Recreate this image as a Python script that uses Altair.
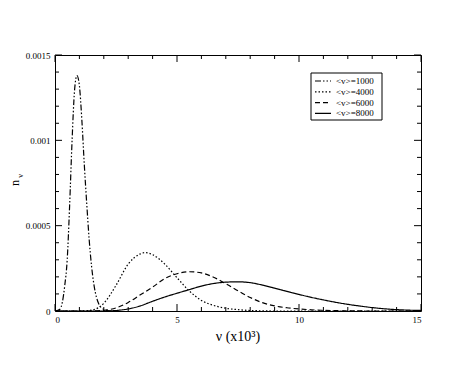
import altair as alt
import pandas as pd

# ---- data (x in units of 10^3) ----
labels = ["<v>=1000", "<v>=4000", "<v>=6000", "<v>=8000"]

c1_x = [0.0, 0.2, 0.3, 0.4, 0.5, 0.6, 0.7, 0.8, 0.9, 1.0, 1.1, 1.2, 1.3, 1.4, 1.5, 1.6, 1.7, 1.8, 2.0, 2.3, 2.6]
c1_y = [0, 0.00001, 0.00005, 0.00015, 0.00030, 0.00062, 0.00100, 0.00129, 0.00138, 0.00132,
        0.00112, 0.00086, 0.00063, 0.00042, 0.00026, 0.00015, 0.00008, 0.00004, 0.00001, 0, 0]

c2_x = [0, 1.0, 1.5, 2.0, 2.5, 3.0, 3.5, 3.7, 4.0, 4.5, 5.0, 5.5, 6.0, 6.5, 7.0, 7.5, 8.0, 8.5, 9.0, 15]
c2_y = [0, 0, 0.000005, 0.000045, 0.00015, 0.000275, 0.000335, 0.000342, 0.00033, 0.000275,
        0.000195, 0.000118, 0.000062, 0.000033, 0.000016, 0.000008, 0.000003, 0.000001, 0, 0]

c3_x = [0, 1.5, 2.0, 2.5, 3.0, 3.5, 4.0, 4.5, 5.0, 5.5, 6.0, 6.5, 7.0, 7.5, 8.0, 8.5, 9.0,
        9.5, 10.0, 10.5, 11.0, 12.0, 13.0, 15]
c3_y = [0, 0, 0.000004, 0.000018, 0.00005, 0.000095, 0.00014, 0.00019, 0.000218, 0.00023,
        0.000223, 0.000198, 0.00016, 0.000118, 0.000079, 0.000049, 0.00003, 0.000019,
        0.000012, 0.000007, 0.000004, 0.000001, 0, 0]

c4_x = [0, 2.0, 2.5, 3.0, 3.5, 4.0, 4.5, 5.0, 5.5, 6.0, 6.5, 7.0, 7.5, 8.0, 8.5, 9.0, 9.5,
        10.0, 10.5, 11.0, 11.5, 12.0, 12.5, 13.0, 13.5, 14.0, 14.5, 15.0]
c4_y = [0, 0, 0.000003, 0.000012, 0.00003, 0.000057, 0.000082, 0.000104, 0.000125, 0.000146,
        0.000161, 0.000169, 0.000171, 0.000166, 0.000152, 0.000134, 0.000115, 0.000097,
        0.00008, 0.000065, 0.000051, 0.000039, 0.000029, 0.00002, 0.000013, 0.000008,
        0.000005, 0.000003]

x_major = [0, 5, 10, 15]
x_minor = [1, 2, 3, 4, 6, 7, 8, 9, 11, 12, 13, 14]
y_major = [0, 0.0005, 0.001, 0.0015]
y_minor = [0.0001, 0.0002, 0.0003, 0.0004, 0.0006, 0.0007, 0.0008, 0.0009,
           0.0011, 0.0012, 0.0013, 0.0014]

# ---- build table ----
rows = []
for lab, xs, ys in zip(labels, [c1_x, c2_x, c3_x, c4_x], [c1_y, c2_y, c3_y, c4_y]):
    for a, b in zip(xs, ys):
        rows.append({"x": a, "y": b, "series": lab})
df = pd.DataFrame(rows)

W, H = 366, 256
FONT = "Liberation Serif"
dashes = [[6, 2, 1.5, 2, 1.5, 2], [1.5, 2], [5, 3], [1, 0]]

xscale = alt.Scale(domain=[0, 15], nice=False, zero=False)
yscale = alt.Scale(domain=[0, 0.0015], nice=False, zero=False)

lines = alt.Chart(df).mark_line(color="black", strokeWidth=1.2, interpolate="monotone", clip=True).encode(
    x=alt.X("x:Q", scale=xscale,
            axis=alt.Axis(values=x_major, ticks=False, domain=False, grid=False, title=None,
                          labelFont=FONT, labelFontSize=9, labelColor="black", labelPadding=4)),
    y=alt.Y("y:Q", scale=yscale,
            axis=alt.Axis(values=y_major, ticks=False, domain=False, grid=False, title=None,
                          format="~g", labelFont=FONT, labelFontSize=9, labelColor="black",
                          labelPadding=5)),
    strokeDash=alt.StrokeDash("series:N", scale=alt.Scale(domain=labels, range=dashes), legend=None),
    detail="series:N",
)

layers = [lines]

# inward ticks on all four sides
def xticks(vals, length):
    d = pd.DataFrame({"v": vals})
    bot = alt.Chart(d).mark_rule(color="black", strokeWidth=1).encode(
        x=alt.X("v:Q", scale=xscale), y=alt.value(H), y2=alt.value(H - length))
    top = alt.Chart(d).mark_rule(color="black", strokeWidth=1).encode(
        x=alt.X("v:Q", scale=xscale), y=alt.value(0), y2=alt.value(length))
    return [bot, top]

def yticks(vals, length):
    d = pd.DataFrame({"v": vals})
    left = alt.Chart(d).mark_rule(color="black", strokeWidth=1).encode(
        y=alt.Y("v:Q", scale=yscale), x=alt.value(0), x2=alt.value(length))
    right = alt.Chart(d).mark_rule(color="black", strokeWidth=1).encode(
        y=alt.Y("v:Q", scale=yscale), x=alt.value(W), x2=alt.value(W - length))
    return [left, right]

layers += xticks(x_major, 7) + xticks(x_minor, 4) + yticks(y_major, 7) + yticks(y_minor, 4)

# legend box
one = pd.DataFrame({"a": [0]})
layers.append(alt.Chart(one).mark_rect(fill="white", stroke="black", strokeWidth=1).encode(
    x=alt.value(256), x2=alt.value(327), y=alt.value(18), y2=alt.value(65)))
for i, lab in enumerate(labels):
    yy = 26 + i * 10.8
    d = pd.DataFrame({"label": [lab]})
    layers.append(alt.Chart(d).mark_rule(color="black", strokeWidth=1.2, strokeDash=dashes[i]).encode(
        x=alt.value(260), x2=alt.value(276), y=alt.value(yy)))
    layers.append(alt.Chart(d).mark_text(align="left", baseline="middle", font=FONT, fontSize=9,
                                         color="black").encode(
        x=alt.value(281), y=alt.value(yy), text="label:N"))

# axis titles as text
layers.append(alt.Chart(pd.DataFrame({"t": ["ν  (x10³)"]})).mark_text(
    font=FONT, fontSize=14, color="black", align="center", baseline="alphabetic").encode(
    x=alt.value(W / 2), y=alt.value(H + 30), text="t:N"))
layers.append(alt.Chart(pd.DataFrame({"t": ["n"]})).mark_text(
    font=FONT, fontSize=12, color="black", align="center", baseline="alphabetic", angle=270).encode(
    x=alt.value(-36), y=alt.value(128), text="t:N"))
layers.append(alt.Chart(pd.DataFrame({"t": ["ν"]})).mark_text(
    font=FONT, fontSize=8, color="black", align="center", baseline="alphabetic", angle=270).encode(
    x=alt.value(-32), y=alt.value(121), text="t:N"))

chart = alt.layer(*layers).properties(
    width=W, height=H,
    autosize=alt.AutoSizeParams(type="none"),
    padding={"left": 47, "top": 47, "right": 40, "bottom": 40},
    background="white",
).configure_view(stroke="black", strokeWidth=1)

chart.save("out.html", embed_options={"renderer": "svg", "actions": False})
